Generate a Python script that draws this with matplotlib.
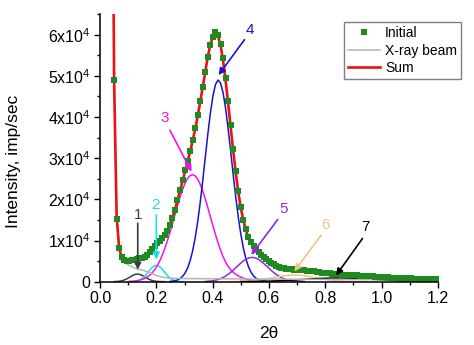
import numpy as np
import matplotlib
matplotlib.use('Agg')
import matplotlib.pyplot as plt

# ====== DATA ================================================================
# common 2theta grid; the first point only lets the curves leave the top
two_theta = [
    0.047,
    0.050, 0.059, 0.068, 0.077, 0.086, 0.095, 0.104, 0.113, 0.122, 0.131,
    0.140, 0.149, 0.158, 0.167, 0.176, 0.185, 0.194, 0.203, 0.212, 0.221,
    0.230, 0.239, 0.248, 0.257, 0.266, 0.275, 0.284, 0.293, 0.302, 0.311,
    0.320, 0.329, 0.338, 0.347, 0.356, 0.365, 0.374, 0.383, 0.392, 0.401,
    0.410, 0.419, 0.428, 0.437, 0.446, 0.455, 0.464, 0.473, 0.482, 0.491,
    0.500, 0.509, 0.518, 0.527, 0.536, 0.545, 0.554, 0.563, 0.572, 0.581,
    0.590, 0.599, 0.608, 0.617, 0.626, 0.635, 0.644, 0.653, 0.662, 0.671,
    0.680, 0.689, 0.698, 0.707, 0.716, 0.725, 0.734, 0.743, 0.752, 0.761,
    0.770, 0.779, 0.788, 0.797, 0.806, 0.815, 0.824, 0.833, 0.842, 0.851,
    0.860, 0.869, 0.878, 0.887, 0.896, 0.905, 0.914, 0.923, 0.932, 0.941,
    0.950, 0.959, 0.968, 0.977, 0.986, 0.995, 1.004, 1.013, 1.022, 1.031,
    1.040, 1.049, 1.058, 1.067, 1.076, 1.085, 1.094, 1.103, 1.112, 1.121,
    1.130, 1.139, 1.148, 1.157, 1.166, 1.175, 1.184, 1.193]

# measured intensity (starts at two_theta[1])
initial = [
    49100, 15200, 8100, 6000, 5300, 5000, 5050, 5150, 5300, 5450,
    5650, 5850, 6100, 6500, 7100, 7850, 8600, 9300, 9900, 10600,
    11300, 12300, 13700, 15400, 17500, 19800, 22200, 24700, 27100, 29400,
    31800, 34400, 37300, 40400, 43800, 47300, 51000, 54500, 57400, 59500,
    60600, 59900, 57800, 54300, 49500, 43900, 38000, 32300, 26900, 22100,
    18200, 15100, 12700, 10900, 9600, 8600, 7850, 7200, 6600, 6050,
    5550, 5050, 4600, 4200, 3880, 3600, 3380, 3220, 3100, 3030,
    2980, 2940, 2900, 2860, 2820, 2770, 2700, 2630, 2560, 2480,
    2400, 2310, 2230, 2150, 2070, 2000, 1940, 1880, 1830, 1780,
    1740, 1700, 1660, 1620, 1590, 1550, 1510, 1480, 1440, 1400,
    1360, 1320, 1280, 1240, 1200, 1160, 1120, 1080, 1040, 1000,
    970, 940, 910, 880, 850, 830, 800, 780, 760, 740,
    720, 700, 690, 670, 660, 650, 640, 630]

# X-ray beam contribution, on the whole grid
xray_beam = [
    80000,
    49000, 15900, 8000, 5800, 4900, 4300, 3950, 3650, 3350, 3100,
    3000, 2850, 2650, 2450, 2200, 1950, 1700, 1450, 1250, 1100,
    990, 920, 870, 830, 800, 780, 765, 757, 754, 751,
    748, 745, 742, 739, 736, 733, 730, 727, 724, 721,
    718, 715, 712, 709, 706, 703, 700, 696, 692, 688,
    684, 680, 676, 672, 668, 664, 660, 656, 652, 648,
    644, 640, 636, 632, 628, 624, 620, 616, 612, 608,
    604, 600, 596, 592, 588, 584, 580, 576, 572, 568,
    564, 560, 556, 552, 548, 544, 540, 536, 532, 528,
    524, 520, 516, 512, 508, 504, 500, 497, 494, 491,
    488, 485, 482, 479, 476, 473, 470, 467, 464, 461,
    458, 455, 452, 449, 446, 443, 440, 437, 434, 431,
    428, 425, 422, 419, 416, 413, 410, 407]

# fitted peaks: values start at grid index peak_start (index into two_theta)
peak1 = [16, 43, 102, 215, 407, 687, 1039, 1406, 1703, 1845, 1789, 1552,
         1205, 837, 520, 290, 144, 64, 26, 9, 3]
peak2 = [11, 32, 83, 192, 403, 761, 1299, 1997, 2770, 3465, 3909, 3977,
         3649, 3019, 2253, 1516, 920, 504, 249, 111, 44, 16, 5]
peak3 = [57, 92, 146, 228, 348, 521, 764, 1099, 1550, 2143, 2904, 3861,
         5031, 6427, 8050, 9888, 11905, 14050, 16263, 18452, 20527, 22389,
         23941, 25098, 25797, 25997, 25685, 24880, 23626, 21998, 20082,
         17971, 15770, 13567, 11443, 9461, 7670, 6097, 4753, 3700, 2900,
         2300, 1800, 1400, 1100, 850, 650, 480, 350, 250, 170, 110, 70, 40, 20]
peak4 = [60, 120, 229, 420, 744, 1272, 2096, 3329, 5097, 7518, 10695, 14667,
         19390, 24706, 30356, 35946, 41033, 45155, 47902, 48989, 48294, 45898,
         42047, 37131, 31615, 25946, 20526, 15655, 11510, 8159, 5571, 3670,
         2332, 1426, 843, 479, 263, 139, 71]
peak5 = [62, 100, 158, 242, 361, 524, 742, 1022, 1370, 1787, 2271, 2810,
         3384, 3967, 4529, 5033, 5446, 5738, 5885, 5876, 5712, 5406, 4981,
         4469, 3903, 3319, 2748, 2214, 1738, 1328, 987, 715, 504, 346, 231,
         150, 95, 59, 35, 21]
peak6 = [17, 24, 34, 47, 65, 87, 115, 151, 194, 247, 309, 381, 464, 556, 658,
         766, 880, 996, 1112, 1223, 1326, 1417, 1492, 1549, 1586, 1600, 1591,
         1559, 1507, 1435, 1347, 1246, 1137, 1022, 906, 791, 681, 578, 484,
         399, 324, 260, 205, 160, 123, 93, 69, 51, 37, 26, 18, 13, 9, 6]
peak7 = [24, 29, 35, 41, 49, 57, 67, 79, 91, 106, 122, 140, 159, 181, 204,
         229, 256, 285, 316, 349, 383, 418, 454, 491, 529, 567, 604, 641, 677,
         712, 745, 775, 803, 828, 850, 868, 882, 892, 898, 900, 897, 890, 879,
         864, 845, 823, 797, 769, 738, 704, 670, 633, 596, 558, 521, 483, 446,
         410, 375, 341, 309, 279, 250, 223, 199, 176, 155, 135, 118, 102, 88,
         76, 65, 55, 47, 40, 33, 28]

peaks = [peak1, peak2, peak3, peak4, peak5, peak6, peak7]
peak_start = [1, 7, 7, 23, 37, 47, 51]
peak_names = ['1', '2', '3', '4', '5', '6', '7']
peak_colors = ['#3c3c3c', '#19e0e6', '#f013f0', '#1414d2', '#8a2be2',
               '#ecc57e', '#000000']

# label position, arrow tail, arrow head
label_xy = [(0.134, 16300), (0.196, 18700), (0.230, 39700), (0.533, 61100),
            (0.651, 17600), (0.799, 13800), (0.944, 13200)]
arrow_from = [(0.134, 14200), (0.200, 16200), (0.248, 36800), (0.513, 58800),
              (0.631, 15100), (0.785, 11300), (0.932, 10500)]
arrow_to = [(0.134, 2900), (0.200, 5400), (0.325, 26700), (0.421, 50200),
            (0.537, 6500), (0.690, 2500), (0.838, 1500)]

y_ticks = [0, 10000, 20000, 30000, 40000, 50000, 60000]
y_ticklabels = ['0', '1x10$^4$', '2x10$^4$', '3x10$^4$', '4x10$^4$',
                '5x10$^4$', '6x10$^4$']
x_ticks = [0.0, 0.2, 0.4, 0.6, 0.8, 1.0, 1.2]

# ====== PLOT ================================================================
plt.rcParams['font.family'] = ['Liberation Sans', 'DejaVu Sans']
plt.rcParams['mathtext.default'] = 'regular'

x = np.array(two_theta)
total = np.array(xray_beam, dtype=float)
for start, vals in zip(peak_start, peaks):
    total[start:start + len(vals)] += vals

fig = plt.figure(figsize=(4.74, 3.45), dpi=100)
ax = fig.add_axes([0.211, 0.1835, 0.713, 0.7755])

for start, vals, col in zip(peak_start, peaks, peak_colors):
    ax.plot(x[start:start + len(vals)], vals, '-', color=col, lw=1.1)

ax.plot(x, xray_beam, '-', color='#b4b4b4', lw=1.1, label='X-ray beam')
ax.plot(x, total, '-', color='#ee1111', lw=1.9, label='Sum')
ax.plot(x[1:], initial, 's', color='#1f8a1f', markersize=3.7,
        markeredgewidth=0, label='Initial')

for name, col, txy, a0, a1 in zip(peak_names, peak_colors, label_xy,
                                  arrow_from, arrow_to):
    ax.text(txy[0], txy[1], name, color=col, fontsize=11,
            ha='center', va='center')
    ax.annotate('', xy=a1, xytext=a0,
                arrowprops=dict(arrowstyle='-|>', color=col, lw=1.2,
                                mutation_scale=10, shrinkA=0, shrinkB=0))

ax.set_xlim(0, 1.2)
ax.set_ylim(0, 65000)
ax.set_xticks(x_ticks)
ax.set_xticklabels(['%.1f' % v for v in x_ticks])
ax.set_xticks(np.array([0.1, 0.3, 0.5, 0.7, 0.9, 1.1]), minor=True)
ax.set_yticks(y_ticks)
ax.set_yticklabels(y_ticklabels)
ax.set_yticks([5000, 15000, 25000, 35000, 45000, 55000, 65000], minor=True)
ax.tick_params(which='major', direction='out', length=4, width=1,
               labelsize=11.5, pad=3)
ax.tick_params(which='minor', direction='out', length=2.5, width=1)

for side in ['top', 'right']:
    ax.spines[side].set_visible(False)
for side in ['left', 'bottom']:
    ax.spines[side].set_linewidth(1.1)

ax.set_xlabel('2\u03b8', fontsize=12.5)
ax.xaxis.set_label_coords(0.5, -0.167)
ax.set_ylabel('Intensity, imp/sec', fontsize=12.5)
ax.yaxis.set_label_coords(-0.234, 0.45)

handles, labels = ax.get_legend_handles_labels()
order = [2, 0, 1]
leg = ax.legend([handles[i] for i in order], [labels[i] for i in order],
                loc='upper right', bbox_to_anchor=(0.9726, 0.936),
                bbox_transform=fig.transFigure, fontsize=10, numpoints=1,
                fancybox=False, framealpha=1, edgecolor='#808080',
                borderpad=0.3, labelspacing=0.25, handlelength=2.3,
                handletextpad=0.35, borderaxespad=0)
leg.get_frame().set_linewidth(1.0)

fig.savefig('out.png', dpi=100)
